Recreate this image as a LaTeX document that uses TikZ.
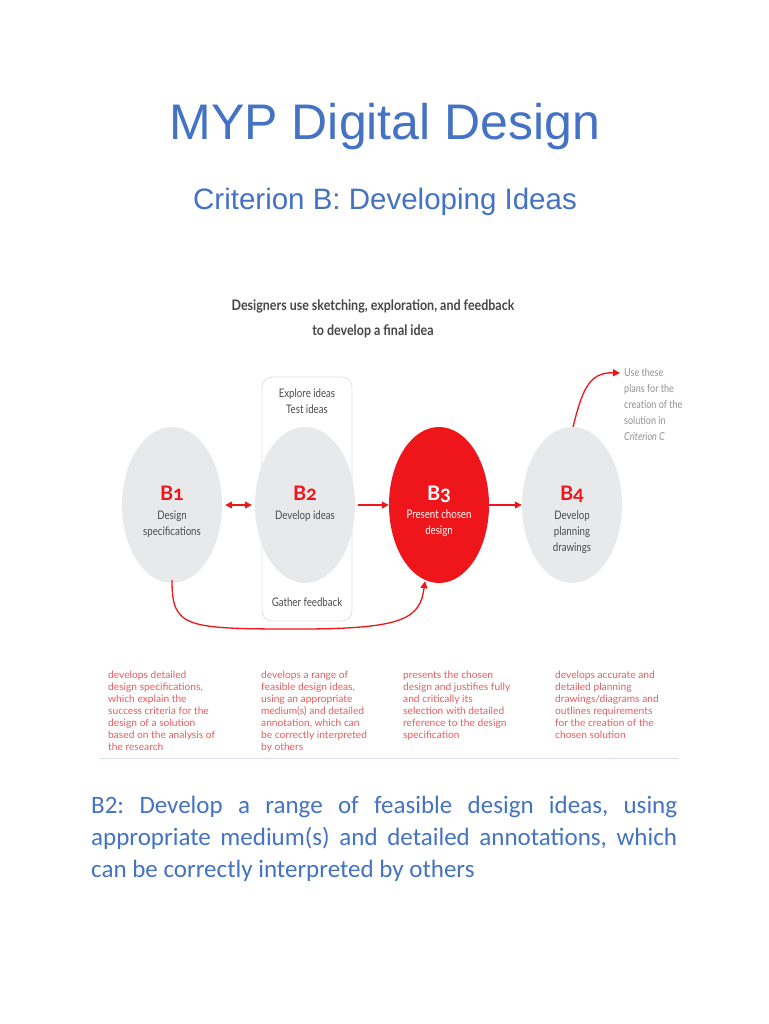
\documentclass[tikz,border=0pt]{standalone}
\usepackage{fontspec}
\setmainfont{Liberation Sans}
\newfontfamily\lato{Lato}
\newfontfamily\latob[Numbers=OldStyle]{Lato}
\newfontfamily\carl{Carlito}
\usetikzlibrary{arrows.meta,shapes.geometric}
\definecolor{titleblue}{RGB}{68,114,196}
\definecolor{circgrey}{RGB}{232,233,234}
\definecolor{bred}{RGB}{238,22,26}
\definecolor{descred}{RGB}{232,92,95}
\definecolor{txtgrey}{RGB}{75,75,75}
\definecolor{headgrey}{RGB}{70,70,70}
\definecolor{lightgrey}{RGB}{145,145,145}
\definecolor{boxgrey}{RGB}{225,225,225}
\definecolor{rulec}{RGB}{215,224,242}
\newcommand\cnd[1]{\scalebox{0.82}[1]{#1}}
\tikzset{
  circ/.style={ellipse, minimum width=100, minimum height=156, inner sep=0, fill=circgrey},
  blabel/.style={anchor=base, inner sep=0, font=\latob\bfseries\fontsize{20}{22}\selectfont, text=bred},
  ctext/.style={anchor=base, inner sep=0, font=\lato\fontsize{11.8}{16}\selectfont, text=txtgrey},
  desc/.style={anchor=north west, inner sep=0, align=left, font=\lato\fontsize{10.2}{12}\selectfont, text=descred},
  redarrow/.style={draw=bred, line width=1.3pt, -{Triangle[length=7pt,width=7pt]}},
}
\begin{document}
\begin{tikzpicture}[x=1pt,y=-1pt]
\useasboundingbox[fill=white] (0,0) rectangle (768,1024);
% titles
\node[anchor=base, inner sep=0, font=\fontsize{50}{60}\selectfont, text=titleblue] (title) at (385,140) {MYP Digital Design};
\node[anchor=base, inner sep=0, font=\fontsize{29.5}{36}\selectfont, text=titleblue] (subtitle) at (385,210) {Criterion B: Developing Ideas};
% diagram heading
\node[anchor=base, inner sep=0, font=\lato\bfseries\fontsize{14.5}{17}\selectfont, text=headgrey] (head1) at (373,310) {\scalebox{0.86}[1]{Designers use sketching, exploration, and feedback}};
\node[anchor=base, inner sep=0, font=\lato\bfseries\fontsize{14.5}{17}\selectfont, text=headgrey] (head2) at (373,335) {\scalebox{0.86}[1]{to develop a final idea}};
% B2 box
\node[draw=boxgrey, line width=0.8pt, rounded corners=10, minimum width=90, minimum height=244, inner sep=0] (box) at (307,499) {};
\node[ctext] (explore) at (307,397) {\cnd{Explore ideas}};
\node[ctext] (test) at (307,413) {\cnd{Test ideas}};
\node[ctext] (gather) at (307,606) {\cnd{Gather feedback}};
% circles
\node[circ] (b1) at (172,505) {};
\node[circ] (b2) at (305,505) {};
\node[circ, fill=bred] (b3) at (439,505) {};
\node[circ] (b4) at (572,505) {};
% circle labels
\node[blabel] (l1) at (172,500) {B1};
\node[ctext] (l1a) at (172,519) {\cnd{Design}};
\node[ctext] (l1b) at (172,535) {\cnd{specifications}};
\node[blabel] (l2) at (305,500) {B2};
\node[ctext] (l2a) at (305,519) {\cnd{Develop ideas}};
\node[blabel, text=white] (l3) at (439,500) {B3};
\node[ctext, text=white] (l3a) at (439,518) {\cnd{Present chosen}};
\node[ctext, text=white] (l3b) at (439,534) {\cnd{design}};
\node[blabel] (l4) at (572,500) {B4};
\node[ctext] (l4a) at (572,519) {\cnd{Develop}};
\node[ctext] (l4b) at (572,535) {\cnd{planning}};
\node[ctext] (l4c) at (572,551) {\cnd{drawings}};
% arrows
\draw[redarrow, {Triangle[length=7pt,width=7pt]}-{Triangle[length=7pt,width=7pt]}] ([xshift=3]b1.east) -- ([xshift=-3]b2.west);
\draw[redarrow] ([xshift=3]b2.east) -- (b3.west);
\draw[redarrow] (b3.east) -- (b4.west);
\draw[redarrow] ([yshift=3]b1.south) .. controls (172,628) and (185,629) .. (300,629) .. controls (405,629) and (420,618) .. ([xshift=-14,yshift=2]b3.south);
\coordinate (useend) at (620,373);
\draw[redarrow] ([xshift=1]b4.north) .. controls (582,392) and (588,372) .. (useend);
\node[anchor=north west, inner sep=0, align=left, font=\lato\fontsize{11}{16}\selectfont, text=lightgrey] (use) at (624,368) {\cnd{Use these}\\\cnd{plans for the}\\\cnd{creation of the}\\\cnd{solution in}\\\cnd{\itshape Criterion C}};
% descriptions
\node[desc] (d1) at (108,671) {develops detailed\\design specifications,\\which explain the\\success criteria for the\\design of a solution\\based on the analysis of\\the research};
\node[desc] (d2) at (261,671) {develops a range of\\feasible design ideas,\\using an appropriate\\medium(s) and detailed\\annotation, which can\\be correctly interpreted\\by others};
\node[desc] (d3) at (403,671) {presents the chosen\\design and justifies fully\\and critically its\\selection with detailed\\reference to the design\\specification};
\node[desc] (d4) at (555,671) {develops accurate and\\detailed planning\\drawings/diagrams and\\outlines requirements\\for the creation of the\\chosen solution};
\coordinate (rulea) at (100,758);
\coordinate (ruleb) at (678,758);
\draw[rulec, line width=1pt] (rulea) -- (ruleb);
% bottom paragraph
\node[anchor=north west, inner sep=0, text width=586, align=justify, font=\carl\fontsize{25}{32}\selectfont, text=titleblue] (para) at (91,796) {\hyphenpenalty=10000\frenchspacing B2: Develop a range of feasible design ideas, using\linebreak appropriate medium(s) and detailed annotations, which\linebreak can be correctly interpreted by others};
\end{tikzpicture}
\end{document}
